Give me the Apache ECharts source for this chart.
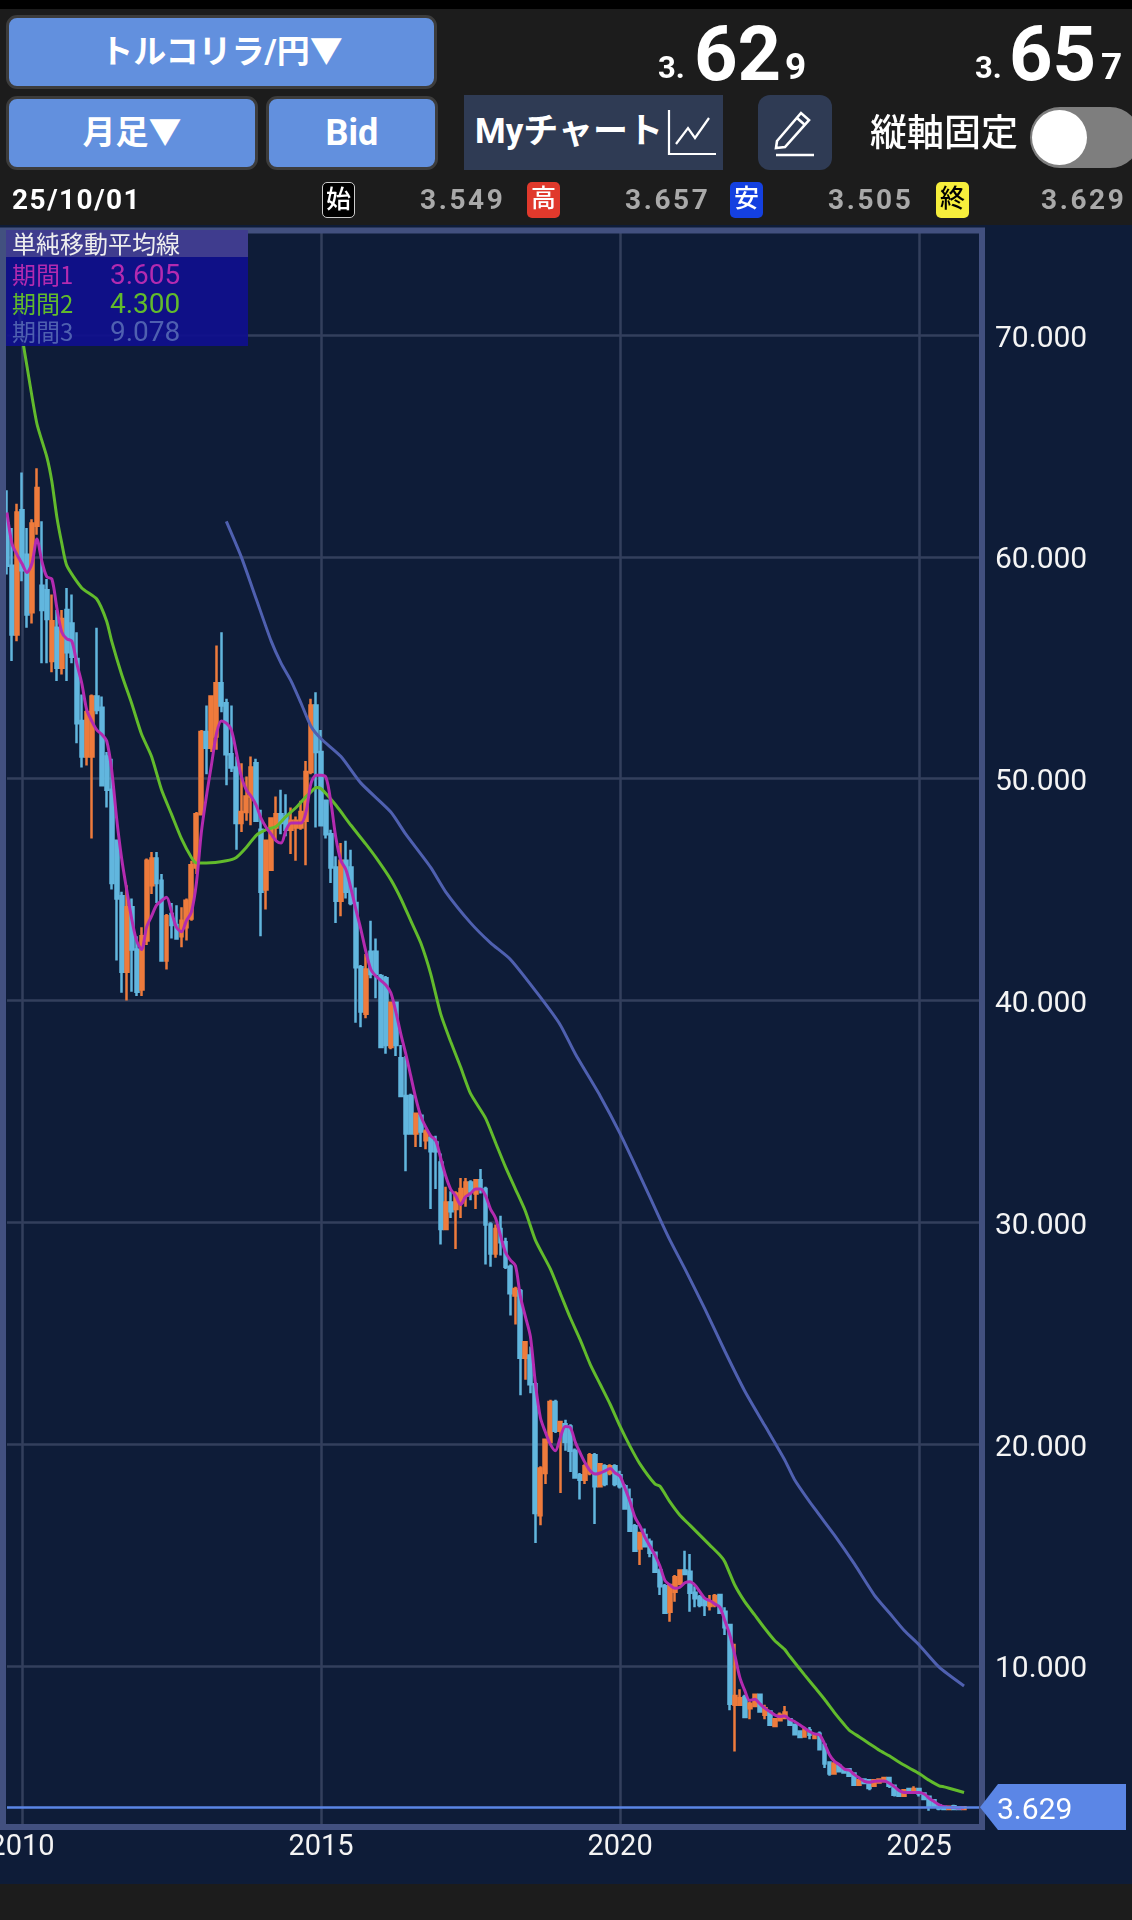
<!DOCTYPE html>
<html>
<head>
<meta charset="utf-8">
<title>トルコリラ/円</title>
<script src="https://cdn.jsdelivr.net/npm/echarts@6/dist/echarts.min.js"></script>
<style>
  html, body { margin: 0; padding: 0; background: #1c1c1c; }
  body { width: 1132px; height: 1920px; position: relative; overflow: hidden;
         font-family: Roboto, "Noto Sans CJK JP", sans-serif; color: #fff; }
  .abs { position: absolute; }
  .btn { position: absolute; box-sizing: border-box; background: #6290de; border: 3px solid #3c3c3c;
         border-radius: 11px; font-weight: 700; font-size: 33px; text-align: center; }
  .big { font-weight: 700; }
  .badge { position: absolute; top: 182px; width: 33px; height: 36px; line-height: 34px; text-align: center;
           border-radius: 5px; font-size: 25px; font-weight: 500; box-sizing: border-box; }
  .ohlc { position: absolute; top: 183px; font-size: 28px; font-weight: 700; color: #a9a9a9; line-height: 34px; letter-spacing: 2.6px; }
  #chartBg { position: absolute; left: 0; top: 225px; width: 1132px; height: 1659px; background: #0e1c38; }
  #chart { position: absolute; left: 0; top: 0; width: 1132px; height: 1920px; }
</style>
</head>
<body>
<div class="abs" style="left:0;top:0;width:1132px;height:9px;background:#000"></div>
<div id="chartBg"></div>
<div id="chart"></div>

<div class="btn" style="left:6px;top:15px;width:431px;height:74px;line-height:68px">トルコリラ/円▼</div>
<div class="btn" style="left:6px;top:96px;width:252px;height:74px;line-height:68px">月足▼</div>
<div class="btn" style="left:266px;top:96px;width:172px;height:74px;line-height:68px;font-size:36px">Bid</div>

<div class="abs big" style="left:658px;top:50px;font-size:31px;line-height:36px">3.</div>
<div class="abs big" style="left:694px;top:14px;font-size:76px;line-height:80px">62</div>
<div class="abs big" style="left:785px;top:47px;font-size:37px;line-height:40px">9</div>
<div class="abs big" style="left:975px;top:50px;font-size:31px;line-height:36px">3.</div>
<div class="abs big" style="left:1009px;top:14px;font-size:76px;line-height:80px">65</div>
<div class="abs big" style="left:1101px;top:47px;font-size:37px;line-height:40px">7</div>

<div class="abs" style="left:464px;top:95px;width:259px;height:75px;background:#2f3b54"></div>
<div class="abs big" style="left:475px;top:112px;font-size:35px;line-height:40px;white-space:nowrap">Myチャート</div>
<svg class="abs" style="left:666px;top:108px" width="52" height="50" fill="none" stroke="#fff" stroke-width="2.2">
  <path d="M3 2V46H50"/><path d="M10 36L22 20L29 30L43 10"/>
</svg>
<div class="abs" style="left:758px;top:95px;width:74px;height:75px;background:#2f3b54;border-radius:12px"></div>
<svg class="abs" style="left:774px;top:108px" width="44" height="50" fill="none" stroke="#fff" stroke-width="2.6">
  <path d="M3 33L27 5L35 12L11 39L2 40Z"/><path d="M23 10L31 17"/><path d="M2 47H40"/>
</svg>
<div class="abs" style="left:870px;top:113px;font-size:37px;line-height:42px;font-weight:500;white-space:nowrap">縦軸固定</div>
<div class="abs" style="left:1030px;top:107px;width:110px;height:61px;background:#7e7e7e;border-radius:30px"></div>
<div class="abs" style="left:1032px;top:110px;width:55px;height:55px;background:#fff;border-radius:50%"></div>

<div class="abs big" style="left:12px;top:183px;font-size:28px;line-height:34px;letter-spacing:1.5px">25/10/01</div>
<div class="badge" style="left:322px;background:#000;border:1px solid #ccc">始</div>
<div class="badge" style="left:527px;background:#e0392c">高</div>
<div class="badge" style="left:730px;background:#1440e0">安</div>
<div class="badge" style="left:936px;background:#f6ee3c;color:#000">終</div>
<div class="ohlc" id="valOpen" style="left:420px"></div>
<div class="ohlc" id="valHigh" style="left:625px"></div>
<div class="ohlc" id="valLow" style="left:828px"></div>
<div class="ohlc" id="valClose" style="left:1041px"></div>

<script>
// 月足 2009-10 .. 2025-10, 読み取り値
const opens = [
  61.5,59.6,56.5,62.1,60.1,57.5,61.4,58.7,58.5,55.3,
  56.8,55.0,57.6,57.0,55.4,52.6,51.0,51.0,53.7,53.2,
  51.0,49.5,47.2,44.7,41.3,44.2,42.3,40.5,42.7,45.2,
  46.4,45.4,41.8,43.9,43.4,42.9,43.3,43.7,46.0,48.4,
  52.1,51.4,51.9,54.3,53.4,51.1,50.5,48.0,48.5,49.2,
  50.7,47.7,45.0,45.9,47.8,48.4,48.3,47.7,47.8,47.8,
  48.1,50.3,53.3,51.2,49.0,47.5,46.0,44.5,46.3,46.0,
  44.4,41.5,39.4,42.2,42.2,41.1,41.0,37.9,39.9,37.4,
  35.7,35.7,34.0,34.8,33.7,33.8,33.6,32.7,29.7,30.9,
  30.6,30.9,31.2,31.8,31.3,31.9,31.5,29.9,28.6,29.7,
  29.1,28.0,26.7,26.9,23.9,24.0,22.7,16.8,18.7,20.1,
  21.9,20.6,20.9,20.8,19.7,18.6,18.4,18.7,19.5,18.1,
  19.0,18.7,19.0,18.6,18.1,17.5,16.3,15.3,15.9,15.6,
  15.1,14.3,13.6,12.45,13.35,13.7,14.3,14.25,13.3,13.1,
  13.0,12.7,12.75,13.2,12.45,11.85,8.25,8.25,8.6,8.1,
  8.2,8.7,7.8,7.95,7.3,7.55,7.65,7.6,7.35,7.05,
  6.82,7.1,6.75,6.95,6.45,5.65,5.15,5.5,5.35,5.35,
  5.15,4.65,4.88,4.85,4.6,4.75,4.8,4.95,4.6,4.35,
  4.15,4.45,4.3,4.45,4.25,4.1,3.95,3.72,3.65,3.55,
  3.68,3.62,3.549
];
const closes = [
  59.6,56.5,62.0,59.4,57.4,61.5,63.1,57.6,57.2,57.1,
  55.0,57.2,55.7,55.5,52.5,51.0,53.0,53.7,53.1,49.7,
  49.5,45.3,44.6,41.3,44.2,42.3,40.4,42.9,46.3,46.4,
  45.3,41.8,43.8,43.4,42.8,43.6,44.5,46.1,48.4,52.1,
  51.4,53.7,54.3,53.3,51.1,50.5,48.0,48.5,49.2,50.5,
  48.1,44.9,47.2,48.2,48.4,48.0,47.7,48.1,48.1,48.5,
  50.3,53.3,51.2,47.9,47.5,46.0,44.5,46.3,44.9,44.4,
  41.5,39.5,41.4,41.2,41.2,37.9,38.0,39.9,38.0,35.7,
  34.0,34.0,34.9,34.1,34.1,33.2,33.2,29.7,30.9,30.5,
  31.3,31.5,31.8,31.4,31.9,31.5,29.9,28.6,29.7,29.1,
  28.0,26.8,27.0,23.9,24.6,22.7,16.9,18.9,20.2,21.9,
  20.6,21.0,20.1,19.7,18.5,18.4,19.0,19.5,18.1,19.1,
  18.2,19.0,18.2,18.1,17.1,16.1,15.2,16.0,15.4,15.1,
  14.25,13.6,12.4,13.65,14.0,14.3,14.15,13.3,13.05,12.75,
  12.75,12.9,13.15,12.4,11.75,8.3,8.65,8.55,7.7,8.3,
  8.7,7.95,8.1,7.35,7.6,7.8,7.9,7.35,6.92,6.8,
  7.15,6.9,6.92,6.25,5.6,5.15,5.6,5.25,5.2,5.05,
  4.65,4.85,4.72,4.5,4.85,4.88,4.95,4.6,4.2,4.15,
  4.4,4.3,4.45,4.25,4.0,3.65,3.65,3.58,3.55,3.65,
  3.55,3.55,3.629
];
const lows = [
  59.2,55.3,56.2,58.9,56.8,57.0,61.0,55.2,55.2,54.8,
  54.4,54.7,54.4,55.2,51.6,50.5,50.6,47.3,52.9,49.7,
  48.7,45.0,41.8,40.35,40.0,40.4,40.2,40.2,42.5,44.8,
  44.4,41.8,41.4,42.8,42.8,42.4,42.7,43.6,45.7,48.4,
  50.2,51.2,51.3,53.0,49.7,50.3,46.8,47.6,48.1,47.9,
  48.1,42.9,44.1,45.9,47.2,47.5,47.4,46.6,46.3,47.7,
  46.1,50.2,47.8,47.9,47.3,45.3,43.5,43.8,44.6,44.3,
  39.0,38.8,39.2,41.0,40.1,37.9,37.6,37.8,37.5,35.7,
  32.3,34.0,33.4,33.4,33.3,30.6,31.5,29.0,29.7,30.2,
  28.8,30.2,30.7,31.0,30.6,31.3,28.1,28.0,28.4,28.5,
  27.9,25.8,25.4,22.2,22.9,22.3,15.55,16.35,18.2,20.1,
  20.5,17.8,19.7,18.75,18.5,17.5,18.2,18.6,16.4,18.1,
  18.1,18.6,18.1,18.0,17.1,16.1,15.2,14.55,15.4,14.9,
  14.2,13.2,12.4,12.0,12.9,13.7,14.1,12.45,12.65,12.65,
  12.25,12.5,12.65,12.35,11.4,8.0,6.15,8.2,7.7,7.6,
  8.15,7.95,7.6,7.35,7.25,7.5,7.6,7.3,6.9,6.75,
  6.8,6.7,6.7,6.2,5.4,5.05,5.13,5.25,5.2,5.0,
  4.65,4.63,4.68,4.4,4.58,4.7,4.75,4.5,4.12,4.1,
  4.1,4.25,4.25,4.12,3.98,3.47,3.62,3.5,3.5,3.5,
  3.5,3.5,3.505
];
const highs = [
  63.0,61.3,62.4,63.8,61.3,61.7,64.0,61.6,59.0,58.3,
  57.6,57.6,58.6,58.3,56.6,53.8,53.1,53.8,56.8,53.7,
  51.2,50.9,47.2,44.9,45.2,44.6,42.9,43.3,46.4,46.7,
  46.7,45.7,43.9,44.4,44.3,44.2,44.6,46.3,48.5,52.2,
  53.3,53.7,56.0,56.6,53.6,53.3,51.0,50.7,50.1,51.0,
  50.9,48.6,47.2,48.2,49.2,49.5,49.3,48.7,48.3,49.0,
  50.8,53.6,53.9,52.2,49.0,47.7,46.5,47.1,47.2,46.8,
  45.1,41.6,42.1,43.6,42.8,41.2,41.1,39.9,39.9,38.0,
  37.5,35.8,34.9,34.9,34.2,33.9,33.9,33.1,31.6,31.4,
  31.4,32.0,32.0,31.9,31.9,32.4,31.6,30.0,29.9,30.3,
  29.3,28.1,27.1,27.0,24.6,24.4,22.8,19.0,20.2,22.0,
  22.0,21.0,21.1,20.9,19.8,18.7,19.1,19.6,19.6,19.1,
  19.1,19.1,19.1,18.8,18.2,18.0,16.4,16.0,16.2,15.75,
  15.15,14.4,13.7,13.7,14.1,14.3,15.2,15.05,13.6,13.2,
  13.05,13.2,13.25,13.25,12.65,11.9,11.0,8.95,8.7,8.4,
  8.75,8.75,8.25,7.95,7.65,7.9,8.2,7.65,7.4,7.1,
  7.2,7.25,6.98,7.05,6.5,5.7,5.72,5.5,5.4,5.4,
  5.17,4.9,4.9,4.9,4.9,4.9,4.98,4.98,4.6,4.35,
  4.45,4.5,4.58,4.45,4.25,4.12,3.98,3.75,3.7,3.7,
  3.74,3.65,3.657
];

// 期間1 (月ごと)
const ma1 = [
  62.0,60.6,60.1,59.7,59.3,59.7,60.8,59.8,59.1,59.0,
  57.7,56.6,56.3,56.2,55.2,54.3,53.1,52.6,52.2,52.0,
  51.7,50.4,48.2,46.4,45.0,43.7,42.7,42.3,43.3,43.8,
  44.3,44.5,44.65,44.0,43.3,43.1,43.6,44.0,45.3,47.6,
  49.2,50.6,52.0,52.6,52.5,52.2,51.2,50.1,49.5,49.2,
  48.8,48.2,47.8,47.5,47.2,47.1,47.7,48.0,48.0,48.0,
  48.5,49.8,50.15,50.15,50.05,48.9,47.3,46.3,45.9,45.05,
  44.1,43.2,42.2,41.4,41.1,40.9,40.7,40.35,39.5,38.5,
  37.6,36.6,35.6,34.8,34.3,33.9,33.7,32.9,32.1,31.5,
  31.2,30.8,31.15,31.3,31.5,31.5,31.2,30.6,30.2,29.4,
  28.65,28.3,28.05,26.65,25.75,24.85,22.75,21.2,20.55,20.0,
  19.7,20.3,20.8,20.75,20.1,19.6,19.15,18.8,18.65,18.7,
  18.8,18.9,18.7,18.55,18.0,17.4,16.7,16.3,15.8,15.4,
  15.0,14.5,13.85,13.65,13.5,13.55,13.75,13.8,13.65,13.35,
  13.05,12.95,12.8,12.65,12.05,11.4,10.5,9.5,8.9,8.45,
  8.5,8.3,8.1,7.95,7.8,7.72,7.75,7.6,7.5,7.35,
  7.2,7.05,6.94,6.9,6.5,6.0,5.7,5.55,5.35,5.3,
  5.1,4.95,4.8,4.76,4.8,4.82,4.82,4.72,4.56,4.38,
  4.3,4.3,4.3,4.3,4.23,4.04,3.89,3.74,3.66,3.63,
  3.62,3.6,3.605
];

// 期間2, 期間3 は折れ点の月番号と値
const ma2Months = [2,3,4,6,8,9,10,11,12,15,18,20,21,23,25,27,29,31,33,35,37,38,40,44,46,48,50,52,54,56,58,60,61,62,63,66,69,72,74,77,79,81,83,85,87,89,91,93,96,98,100,102,104,106,109,111,113,115,117,119,121,123,125,127,130,131,133,135,137,139,141,143,144,146,148,150,152,154,156,157,160,162,164,166,168,169,171,173,175,177,179,181,183,185,187,188,189,192];
const ma2 = [72.0,70.0,68.6,66.0,64.5,63.4,61.8,60.6,59.6,58.6,58.1,57.1,56.2,54.7,53.4,52.0,51.0,49.5,48.4,47.3,46.45,46.2,46.2,46.3,46.45,46.9,47.45,47.7,47.85,48.3,48.7,49.2,49.4,49.6,49.55,48.8,47.9,47.05,46.45,45.45,44.6,43.6,42.6,41.2,39.4,38.15,37.0,35.8,34.7,33.6,32.5,31.5,30.5,29.2,27.9,26.8,25.7,24.7,23.6,22.7,21.8,20.8,19.9,19.1,18.2,18.1,17.4,16.8,16.35,15.9,15.45,15.0,14.7,13.65,12.9,12.3,11.7,11.15,10.75,10.45,9.6,9.05,8.5,7.9,7.35,7.1,6.8,6.5,6.2,5.95,5.66,5.4,5.15,4.85,4.6,4.55,4.49,4.3];

const ma3Months = [44,47,50,53,55,57,59,61,63,67,71,77,80,85,88,93,97,101,107,111,114,119,123,127,131,133,136,140,144,148,152,156,158,162,166,170,174,177,180,183,187,192];
const ma3 = [61.6,60.0,58.1,56.2,55.2,54.4,53.4,52.35,51.8,51.0,49.8,48.5,47.5,46.0,44.9,43.5,42.6,41.85,40.15,38.9,37.6,35.7,34.0,32.1,30.15,29.2,27.9,26.1,24.2,22.4,20.85,19.3,18.4,17.1,15.9,14.6,13.2,12.4,11.6,10.95,9.95,9.1];

const maLabels = ['期間1', '期間2', '期間3'];
const maValues = ['3.605', '4.300', '9.078'];
const maColors = ['#b32bb0', '#62bb2c', '#4f60b0'];

const yTicks = [10, 20, 30, 40, 50, 60, 70];
const xYears = ['2010', '2015', '2020', '2025'];
const lastClose = closes[closes.length - 1];

// 月ラベル(右端の余白3本を含む)
const months = [];
for (let i = 0; i < 196; i++) {
  const m = 9 + i;
  months.push((2009 + Math.floor(m / 12)) + '-' + String(m % 12 + 1).padStart(2, '0'));
}

const isYearTick = function(index, value) {
  return value.endsWith('-01') && xYears.indexOf(value.slice(0, 4)) >= 0;
};

document.getElementById('valOpen').textContent = opens[opens.length - 1].toFixed(3);
document.getElementById('valHigh').textContent = highs[highs.length - 1].toFixed(3);
document.getElementById('valLow').textContent = lows[lows.length - 1].toFixed(3);
document.getElementById('valClose').textContent = lastClose.toFixed(3);

const chart = echarts.init(document.getElementById('chart'), null, { renderer: 'canvas' });
const font = 'Roboto';
const jp = '"Noto Sans CJK JP"';

chart.setOption({
  animation: false,
  // 2010 のラベルは左端で切れるので outerBounds は使わない
  grid: { left: 7, right: 153, top: 233, bottom: 96, outerBoundsMode: 'none' },
  xAxis: {
    type: 'category',
    data: months,
    boundaryGap: false,
    axisLine: { show: false },
    axisTick: { show: false },
    axisLabel: {
      interval: isYearTick,
      formatter: (v) => v.slice(0, 4),
      color: '#f4f4f4', fontFamily: font, fontSize: 29, margin: 9, hideOverlap: false
    },
    splitLine: { show: true, interval: isYearTick, lineStyle: { color: '#333f5c', width: 2.5 } }
  },
  yAxis: {
    type: 'value',
    position: 'right',
    min: 2.877,
    max: 74.6,
    axisLine: { show: false },
    axisTick: { show: false, customValues: yTicks },
    axisLabel: {
      customValues: yTicks,
      formatter: (v) => v.toFixed(3),
      color: '#f4f4f4', fontFamily: font, fontSize: 30, margin: 16,
      verticalAlign: 'top', lineHeight: 8
    },
    splitLine: { show: true, lineStyle: { color: '#333f5c', width: 2.5 } }
  },
  series: [
    {
      name: '月足',
      type: 'candlestick',
      barWidth: 3.4,
      data: opens.map((o, i) => [o, closes[i], lows[i], highs[i]]),
      itemStyle: { color: '#ee7b3c', color0: '#62b6de', borderColor: '#ee7b3c', borderColor0: '#62b6de', borderWidth: 2.5 },
      markLine: {
        silent: true,
        symbol: 'none',
        label: { show: false },
        lineStyle: { color: '#5b86e6', width: 2.5, type: 'solid' },
        data: [{ yAxis: lastClose }]
      }
    },
    {
      name: maLabels[2],
      type: 'line',
      data: ma3Months.map((m, i) => [m, ma3[i]]),
      showSymbol: false,
      smooth: 0.2,
      lineStyle: { color: maColors[2], width: 3 }
    },
    {
      name: maLabels[1],
      type: 'line',
      data: ma2Months.map((m, i) => [m, ma2[i]]),
      showSymbol: false,
      smooth: 0.2,
      lineStyle: { color: maColors[1], width: 3 }
    },
    {
      name: maLabels[0],
      type: 'line',
      data: ma1.map((v, i) => [i, v]),
      showSymbol: false,
      smooth: 0.3,
      lineStyle: { color: maColors[0], width: 3 }
    }
  ]
});

// 枠, 移動平均の凡例, 現在値ラベル
const priceY = chart.convertToPixel({ yAxisIndex: 0 }, lastClose);
const legendRows = maLabels.flatMap((label, i) => [
  { type: 'text', z: 102, style: { x: 12, y: 275 + i * 28.5, text: label, fill: maColors[i], font: '24px ' + jp, textVerticalAlign: 'middle' } },
  { type: 'text', z: 102, style: { x: 110, y: 277 + i * 28.5, text: maValues[i], fill: maColors[i], font: '28px ' + font, textVerticalAlign: 'middle' } }
]);
chart.setOption({
  graphic: [
    { type: 'rect', z: 90, shape: { x: 3, y: 230.5, width: 979, height: 1596.5 }, style: { fill: 'none', stroke: '#42507f', lineWidth: 6 } },
    { type: 'rect', z: 100, shape: { x: 6, y: 230, width: 242, height: 116 }, style: { fill: 'rgba(15,15,142,0.92)' } },
    { type: 'rect', z: 101, shape: { x: 6, y: 230, width: 242, height: 27 }, style: { fill: '#3f3c8e' } },
    { type: 'text', z: 102, style: { x: 12, y: 244, text: '単純移動平均線', fill: '#eeeeee', font: '24px ' + jp, textVerticalAlign: 'middle' } },
    ...legendRows,
    {
      type: 'polygon', z: 100,
      shape: { points: [[980, priceY], [998, 1784], [1126, 1784], [1126, 1830], [998, 1830]] },
      style: { fill: '#5b86e6' }
    },
    { type: 'text', z: 101, style: { x: 997, y: priceY + 4, text: lastClose.toFixed(3), fill: '#ffffff', font: '30px ' + font, textVerticalAlign: 'middle' } }
  ]
});
</script>
</body>
</html>
